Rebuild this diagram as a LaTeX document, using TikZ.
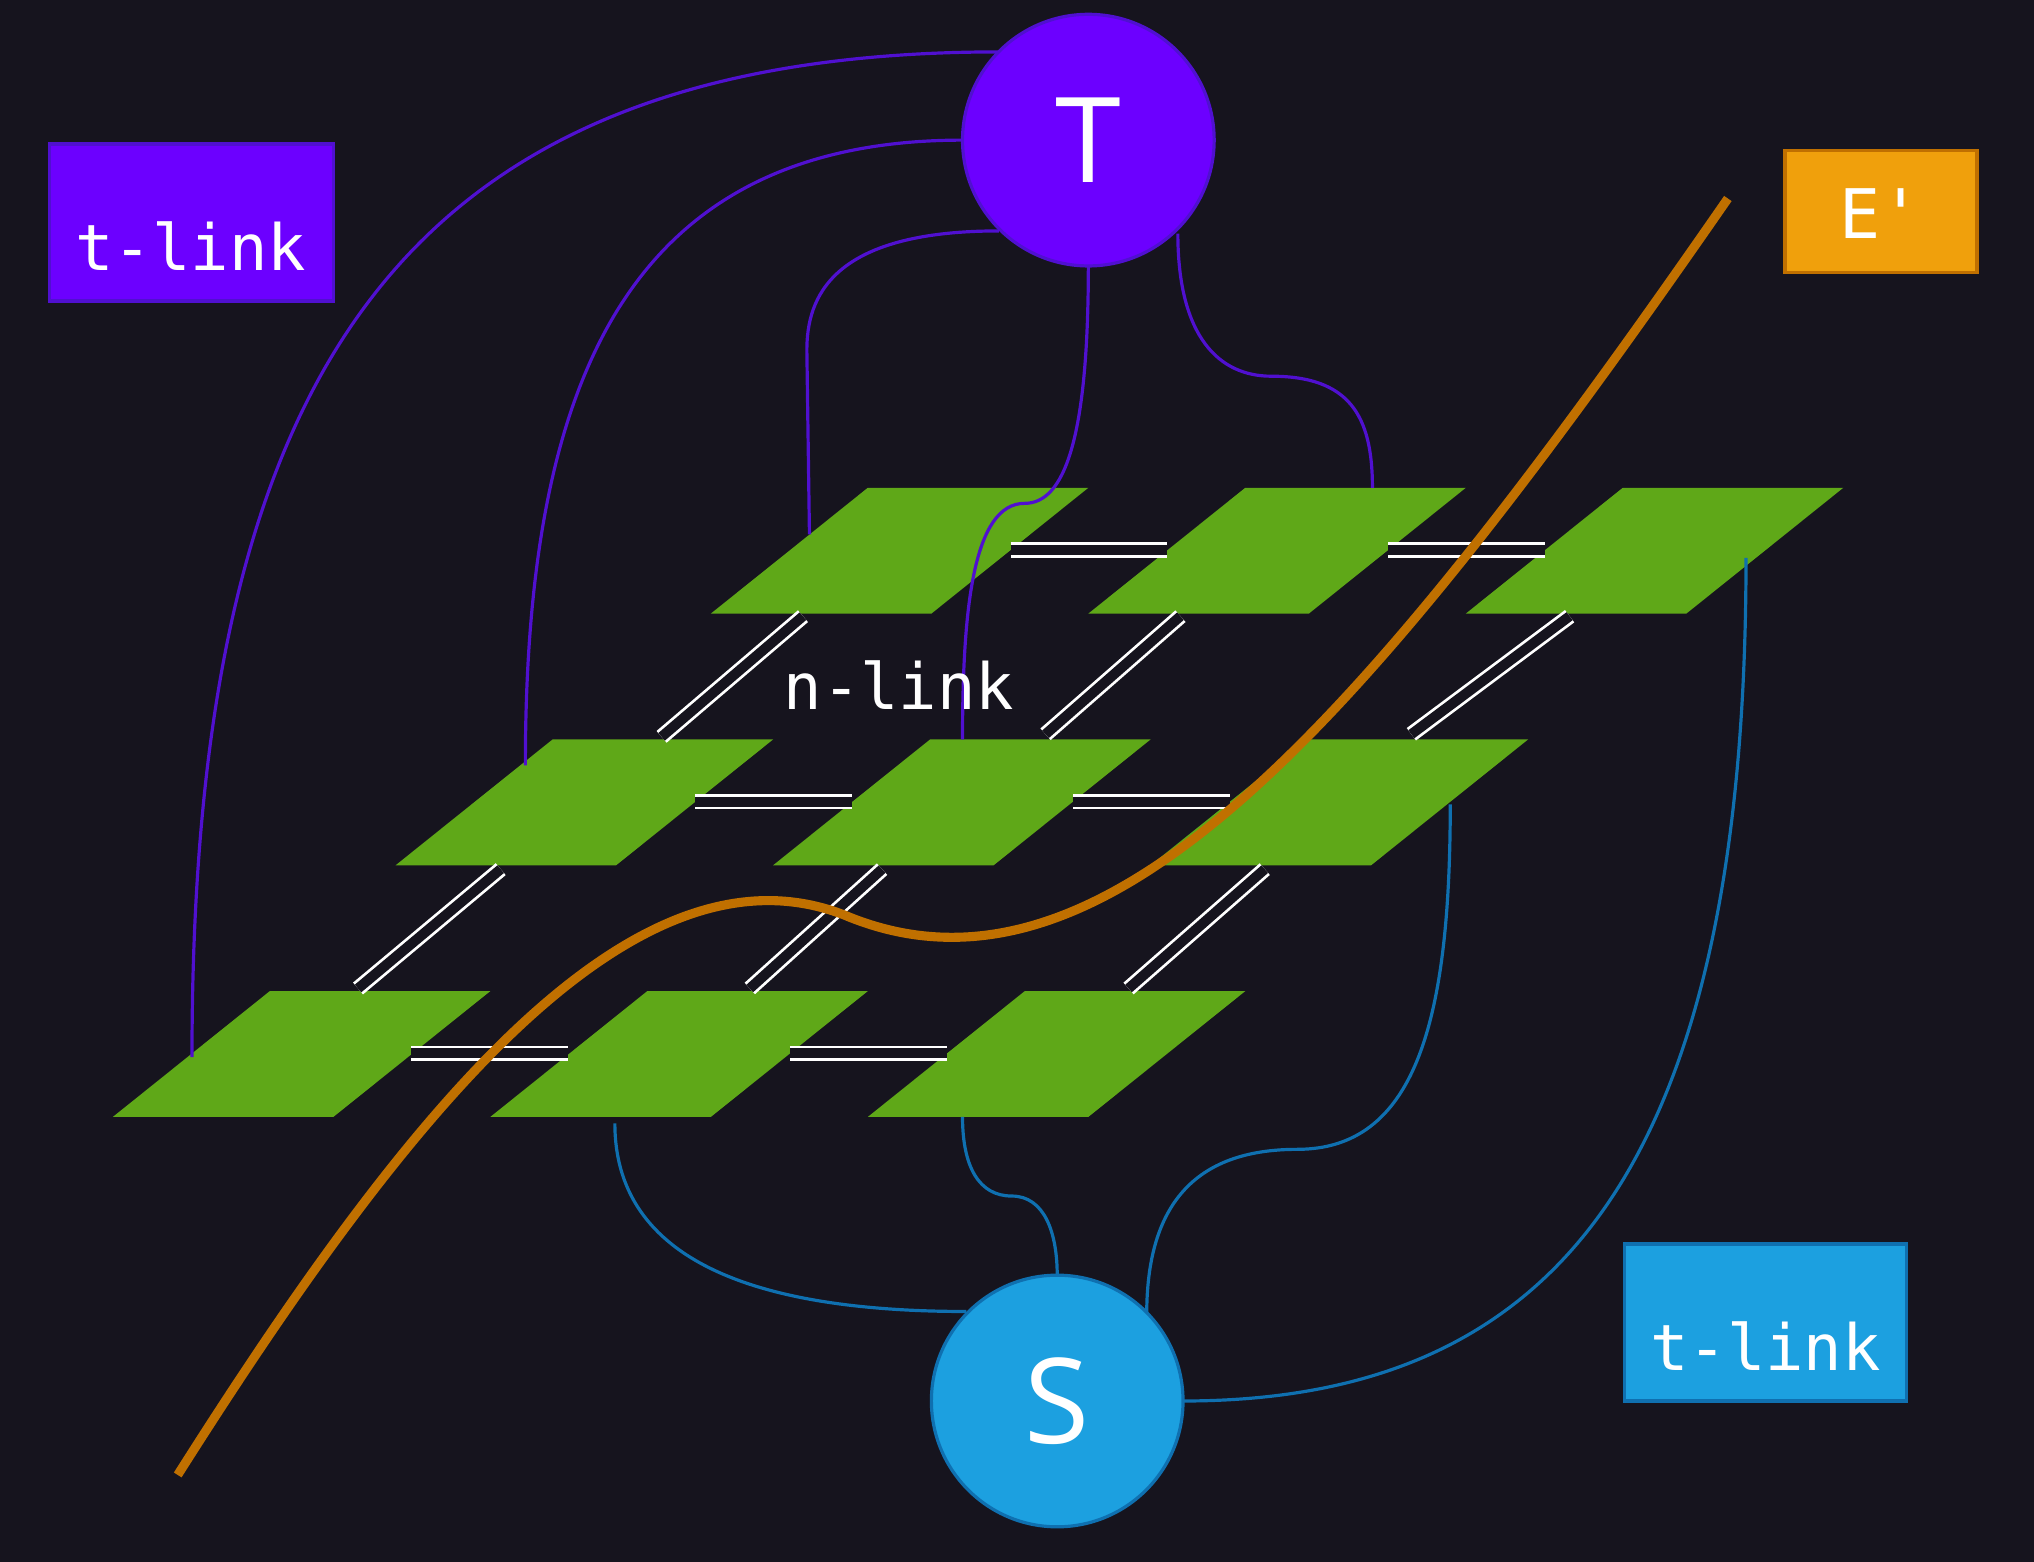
\documentclass[tikz,border=0pt]{standalone}
\usepackage{fontspec}
\setmainfont{Open Sans}
\newfontfamily\mono{DejaVu Sans Mono}
\begin{document}
\begin{tikzpicture}[x=0.1mm,y=-0.1mm,
 pg/.style={fill=green!50!black!60!lime, draw=none},
 nl/.style={draw=white, double=bg, line width=0.6pt, double distance=2.2pt},
 tl/.style={draw=tpur, line width=0.7pt},
 sl/.style={draw=sblu, line width=0.7pt}]
\definecolor{bg}{HTML}{16141E}
\definecolor{grn}{HTML}{5FA818}
\definecolor{tfill}{HTML}{6C00FF}
\definecolor{tpur}{HTML}{5010D0}
\definecolor{sfill}{HTML}{1CA0E0}
\definecolor{sblu}{HTML}{0F70B0}
\definecolor{ofill}{HTML}{F0A00C}
\definecolor{ocut}{HTML}{C07000}
\fill[bg] (0,0) rectangle (1568,1204);
\useasboundingbox (0,0) rectangle (1568,1204);
% parallelograms
\foreach \x/\y in {548/473,839/473,1130/473,305/667,596/667,887/667,87/861,378/861,669/861}
  \fill[grn] (\x,\y) -- ++(121,-97) -- ++(170,0) -- ++(-121,97) -- cycle;
% n-links horizontal
\draw[nl] (779,424) -- (900,424); \draw[nl] (1070,424) -- (1191,424);
\draw[nl] (536,618) -- (657,618); \draw[nl] (827,618) -- (948,618);
\draw[nl] (317,812) -- (438,812); \draw[nl] (609,812) -- (730,812);
% diagonal
\draw[nl] (619,475) -- (510,568); \draw[nl] (910,475) -- (806,566); \draw[nl] (1210,475) -- (1088,566);
\draw[nl] (386,670) -- (276,762); \draw[nl] (680,670) -- (578,762); \draw[nl] (975,670) -- (870,762);
% t-links
\draw[tl] (770,40) .. controls (300,40) and (148,300) .. (148,815);
\draw[tl] (742,108) .. controls (480,108) and (405,300) .. (405,590);
\draw[tl] (770,178) .. controls (640,178) and (622,230) .. (622,270) -- (624,412);
\draw[tl] (839,205) .. controls (839,340) and (820,388) .. (790,388) .. controls (750,388) and (742,470) .. (742,570);
\draw[tl] (908,180) .. controls (908,260) and (940,290) .. (980,290) .. controls (1040,290) and (1058,320) .. (1058,376);
\draw[sl] (474,866) .. controls (474,980) and (600,1011) .. (745,1011);
\draw[sl] (742,861) .. controls (742,900) and (755,922) .. (780,922) .. controls (805,922) and (815,950) .. (815,983);
\draw[sl] (884,1013) .. controls (884,930) and (920,886) .. (1000,886) .. controls (1090,886) and (1118,790) .. (1118,620);
\draw[sl] (912,1080) .. controls (1200,1080) and (1346,900) .. (1346,430);
% terminals
\node[circle, minimum size=19.4mm, inner sep=0, fill=tfill, draw=tpur, line width=0.7pt, text=white, font=\fontsize{26}{30}\selectfont] (T) at (839,108) {T};
\node[circle, minimum size=19.4mm, inner sep=0, fill=sfill, draw=sblu, line width=0.7pt, text=white, font=\fontsize{26}{30}\selectfont] (S) at (815,1080) {S};
% cut
\draw[ocut, line width=2pt] (137,1137) .. controls (300,880) and (480,640) .. (650,705) .. controls (850,790) and (1050,560) .. (1332,153);
% labels
\fill[tfill, draw=tpur, line width=0.7pt] (38,111) rectangle (257,232);
\node[text=white, font=\mono\fontsize{14}{16}\selectfont] (tl1) at (147,190) {t-link};
\fill[ofill, draw=ocut, line width=0.7pt] (1376,116) rectangle (1524,210);
\node[text=white, font=\mono\fontsize{15}{17}\selectfont] (E) at (1450,165) {E'};
\fill[sfill, draw=sblu, line width=0.7pt] (1252,959) rectangle (1470,1080);
\node[text=white, font=\mono\fontsize{14}{16}\selectfont] (tl2) at (1361,1038) {t-link};
\node[text=white, font=\mono\fontsize{14}{16}\selectfont] (nlk) at (693,528) {n-link};
\end{tikzpicture}
\end{document}
